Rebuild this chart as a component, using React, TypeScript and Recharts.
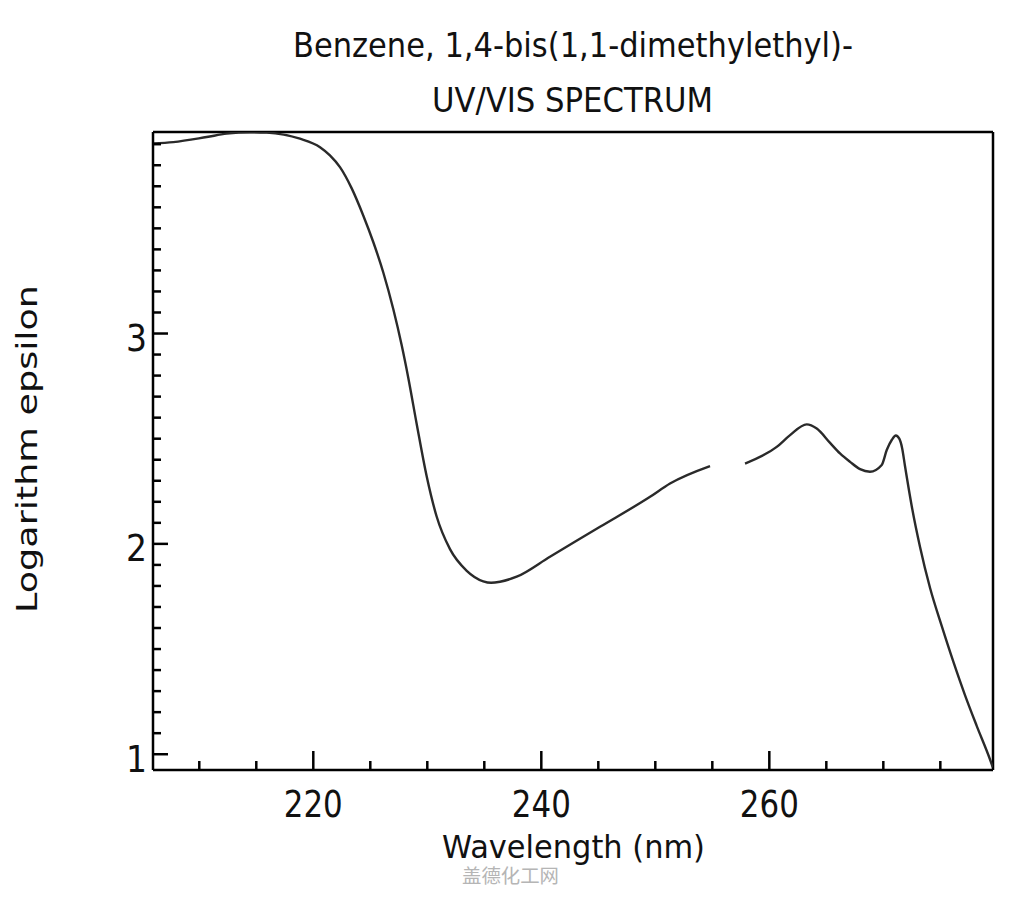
import React from 'react';
import { LineChart, Line, XAxis, YAxis, ReferenceLine } from 'recharts';

const titleLine1 = 'Benzene, 1,4-bis(1,1-dimethylethyl)-';
const titleLine2 = 'UV/VIS SPECTRUM';
const xLabel = 'Wavelength (nm)';
const yLabel = 'Logarithm epsilon';
const watermark = '盖德化工网';

const wavelengths = [
  205.94, 207.72, 210.65, 212.4, 214.45, 215.91, 218.83, 220.59, 221.46, 222.34,
  223.37, 224.39, 225.26, 226.14, 227.02, 227.75, 228.33, 229.07, 229.95, 230.82,
  231.99, 233.46, 234.91, 235.6, 236.38, 237.84, 240.76, 245.15, 249.54, 251.29,
  254.8, 256.3, 257.87, 260.65, 261.82, 263.28, 264.16, 265.33, 266.2, 267.08,
  267.96, 268.83, 269.86, 270.3, 270.75, 271.1, 271.4, 271.65, 271.9, 272.49,
  273.22, 274.1, 275.12, 276.14, 277.17, 278.19, 279.36, 279.6,
];
const logEpsilon: (number | null)[] = [
  3.903, 3.91, 3.934, 3.95, 3.957, 3.955, 3.926, 3.886, 3.847, 3.791,
  3.69, 3.56, 3.435, 3.29, 3.115, 2.945, 2.79, 2.57, 2.32, 2.13,
  1.975, 1.872, 1.822, 1.815, 1.82, 1.844, 1.939, 2.081, 2.224, 2.287,
  2.37, null, 2.382, 2.461, 2.517, 2.568, 2.548, 2.48, 2.43, 2.39,
  2.355, 2.343, 2.375, 2.446, 2.495, 2.515, 2.5, 2.455, 2.37, 2.18,
  1.985, 1.79, 1.61, 1.44, 1.28, 1.135, 0.975, 0.938,
];

const xTicks = [210, 215, 220, 225, 230, 235, 240, 245, 250, 255, 260, 265, 270, 275];
const xMajor = [220, 240, 260];
const yTicks = [
  1, 1.1, 1.2, 1.3, 1.4, 1.5, 1.6, 1.7, 1.8, 1.9,
  2, 2.1, 2.2, 2.3, 2.4, 2.5, 2.6, 2.7, 2.8, 2.9,
  3, 3.1, 3.2, 3.3, 3.4, 3.5, 3.6, 3.7, 3.8, 3.9,
];
const yMajor = [1, 2, 3];
const xDomain: [number, number] = [205.94, 279.62];
const yDomain: [number, number] = [0.925, 3.958];

const data = wavelengths.map((nm, i) => ({ nm, v: logEpsilon[i] }));

const FONT = '"DejaVu Sans", sans-serif';
const AXIS = { stroke: '#000', strokeWidth: 2.5 };

const XTick = (props: any) => {
  const { x, y, payload } = props;
  const v = payload.value;
  const major = xMajor.includes(v);
  return (
    <g>
      <line x1={x} y1={y} x2={x} y2={y - (major ? 19 : 9)} stroke="#000" strokeWidth={2.5} />
      {major && (
        <text
          x={x}
          y={y + 47}
          textAnchor="middle"
          fontSize={38}
          fontFamily={FONT}
          fill="#111"
          textLength={59}
          lengthAdjust="spacingAndGlyphs"
        >
          {String(v)}
        </text>
      )}
    </g>
  );
};

const YTick = (props: any) => {
  const { x, y, payload } = props;
  const v = payload.value;
  const major = yMajor.includes(v);
  return (
    <g>
      <line x1={x} y1={y} x2={x + (major ? 15 : 8)} y2={y} stroke="#000" strokeWidth={2.5} />
      {major && (
        <text
          x={x - 6}
          y={y + 17.5}
          textAnchor="end"
          fontSize={38}
          fontFamily={FONT}
          fill="#111"
          textLength={21}
          lengthAdjust="spacingAndGlyphs"
        >
          {String(v)}
        </text>
      )}
    </g>
  );
};

export default function App() {
  return (
    <div style={{ position: 'relative', width: 1008, height: 884 }}>
      <LineChart
        width={1008}
        height={884}
        data={data}
        margin={{ top: 124, right: 23, bottom: 12, left: 0 }}
      >
        <XAxis
          xAxisId="b"
          type="number"
          dataKey="nm"
          domain={xDomain}
          allowDataOverflow
          ticks={xTicks}
          interval={0}
          tickSize={0}
          tickMargin={0}
          tick={XTick}
          tickLine={false}
          axisLine={AXIS}
          height={110}
        />
        <YAxis
          yAxisId="l"
          type="number"
          domain={yDomain}
          allowDataOverflow
          ticks={yTicks}
          interval={0}
          tickSize={0}
          tickMargin={0}
          tick={YTick}
          tickLine={false}
          axisLine={AXIS}
          width={145}
        />
        <ReferenceLine xAxisId="b" yAxisId="l" y={yDomain[1]} stroke="#000" strokeWidth={2.5} />
        <ReferenceLine xAxisId="b" yAxisId="l" x={xDomain[1]} stroke="#000" strokeWidth={2.5} />
        <Line
          xAxisId="b"
          yAxisId="l"
          type="monotone"
          dataKey="v"
          stroke="#2a2a2a"
          strokeWidth={2.4}
          dot={false}
          activeDot={false}
          connectNulls={false}
          isAnimationActive={false}
        />
      </LineChart>
      <svg
        width={1008}
        height={884}
        style={{ position: 'absolute', left: 0, top: 0, pointerEvents: 'none' }}
      >
        <text x={565} y={49} textAnchor="middle" fontSize={33} fontFamily={FONT} fill="#111"
          textLength={560} lengthAdjust="spacingAndGlyphs">{titleLine1}</text>
        <text x={564.5} y={104} textAnchor="middle" fontSize={34} fontFamily={FONT} fill="#111"
          textLength={281} lengthAdjust="spacingAndGlyphs">{titleLine2}</text>
        <text x={565.5} y={850} textAnchor="middle" fontSize={32} fontFamily={FONT} fill="#111"
          textLength={263} lengthAdjust="spacingAndGlyphs">{xLabel}</text>
        <text x={29} y={441} transform="rotate(-90, 29, 441)" textAnchor="middle" fontSize={28}
          fontFamily={FONT} fill="#111" textLength={328} lengthAdjust="spacingAndGlyphs">{yLabel}</text>
        <text x={502.5} y={875} textAnchor="middle" fontSize={19} fontFamily='"Noto Sans CJK SC", sans-serif'
          fill="#b5b5b5" textLength={97} lengthAdjust="spacingAndGlyphs">{watermark}</text>
      </svg>
    </div>
  );
}
